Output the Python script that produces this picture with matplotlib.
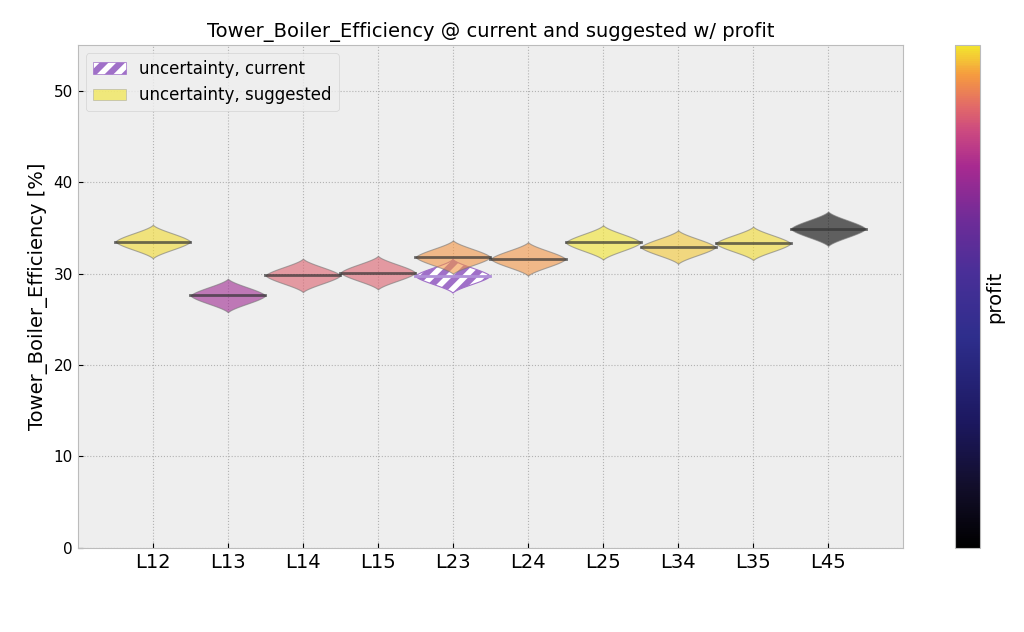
import numpy as np
import matplotlib
matplotlib.use("Agg")
import matplotlib.pyplot as plt
from matplotlib.colors import LinearSegmentedColormap, Normalize
from matplotlib.patches import Patch
from matplotlib.cm import ScalarMappable

plt.style.use("bmh")

# ---- data ----
categories = ["L12", "L13", "L14", "L15", "L23", "L24", "L25", "L34", "L35", "L45"]
suggested_median = [33.5, 27.6, 29.8, 30.1, 31.8, 31.6, 33.4, 32.9, 33.3, 34.9]
suggested_halfrange = [1.85, 1.85, 1.85, 1.85, 1.85, 1.85, 1.9, 1.85, 1.85, 1.9]
profit = [0.99, 0.74, 0.865, 0.865, 0.93, 0.93, 1.0, 0.975, 0.99, 0.0]
current_category = "L23"
current_median = 29.7
current_halfrange = 1.85

title = "Tower_Boiler_Efficiency @ current and suggested w/ profit"
ylabel = "Tower_Boiler_Efficiency [%]"

# ---- colormap ----
cmap = LinearSegmentedColormap.from_list("profit_map", [
    (0.00, "#000000"), (0.12, "#120e2a"), (0.25, "#1c1860"), (0.42, "#2e2e8c"),
    (0.55, "#4a2f98"), (0.65, "#6d2c98"), (0.76, "#a82a90"), (0.83, "#cc4a80"),
    (0.88, "#e26a68"), (0.94, "#f59a40"), (1.00, "#f3e52e")])
norm = Normalize(0, 1)

fig = plt.figure(figsize=(10.24, 6.32), dpi=100)
fig.patch.set_facecolor("white")
ax = fig.add_axes([0.076, 0.133, 0.806, 0.796])
cax = fig.add_axes([0.933, 0.133, 0.024, 0.796])

positions = np.arange(1, len(categories) + 1)
half_width = 0.5
t = np.linspace(-1, 1, 401)
u = np.abs(t)
profile = (1 - u) ** 1.3 * (1 + 0.9 * u * (1 - u))


def violin(x, med, hr, face, edge, alpha, hatch=None, zorder=3):
    y = med + t * hr
    w = profile * half_width
    poly = ax.fill_betweenx(y, x - w, x + w, facecolor=face, edgecolor=edge,
                            alpha=alpha, linewidth=0.8, zorder=zorder)
    if hatch:
        poly.set_hatch(hatch)
        try:
            poly.set_hatch_linewidth(4.5)
        except Exception:
            pass
    return poly


# current (hatched)
plt.rcParams["hatch.linewidth"] = 4.5
ci = categories.index(current_category)
violin(positions[ci], current_median, current_halfrange, "white", "#a070c8", 1.0,
       hatch="//", zorder=2.5)
ax.plot([positions[ci] - half_width, positions[ci] + half_width],
        [current_median, current_median], color="#b090d8", lw=2, zorder=2.6)

# suggested
for x, m, hr, p in zip(positions, suggested_median, suggested_halfrange, profit):
    violin(x, m, hr, cmap(norm(p)), "#777777", 0.6, zorder=3)
    ax.plot([x - half_width, x + half_width], [m, m], color="#333333",
            alpha=0.7, lw=2, zorder=4)

ax.set_xlim(0, len(categories) + 1)
ax.set_ylim(0, 55)
ax.set_xticks(positions)
ax.set_xticklabels(categories, fontsize=14)
ax.set_yticks([0, 10, 20, 30, 40, 50])
ax.tick_params(axis="y", labelsize=11)
ax.grid(True, color="#b2b2b2", linestyle=":", linewidth=0.8)
ax.set_axisbelow(True)
ax.set_title(title, fontsize=14)
ax.set_ylabel(ylabel, fontsize=14)

handles = [Patch(facecolor="white", edgecolor="#a070c8", hatch="//", label="uncertainty, current"),
           Patch(facecolor=cmap(1.0), edgecolor="#999999", alpha=0.6, label="uncertainty, suggested")]
ax.legend(handles=handles, loc="upper left", fontsize=12, frameon=True)

sm = ScalarMappable(norm=norm, cmap=cmap)
cb = fig.colorbar(sm, cax=cax)
cb.set_ticks([])
cb.outline.set_edgecolor("#bbbbbb")
cb.set_label("profit", fontsize=14)

fig.savefig("out.png", dpi=100)
